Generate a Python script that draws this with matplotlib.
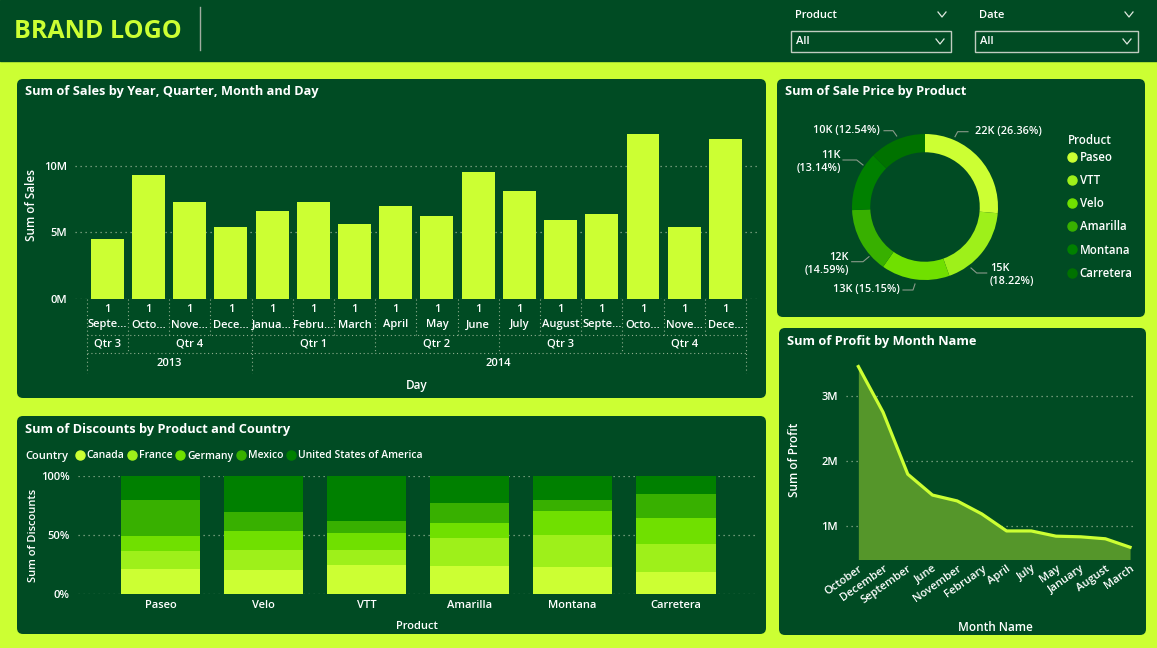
import numpy as np
import matplotlib.pyplot as plt
from matplotlib.patches import FancyBboxPatch, Rectangle
from matplotlib.lines import Line2D
from matplotlib.transforms import blended_transform_factory

plt.rcParams['font.family'] = ['Open Sans', 'DejaVu Sans']

W, H = 1157, 648
LIME = '#ccff33'
PANEL = '#004b23'
GREENS = ['#ccff33', '#9ef01a', '#70e000', '#38b000', '#008000', '#007200']
TXT = '#ffffff'
GRID = '#8fae8f'

# --- data ---
sales_years = ['2013'] * 4 + ['2014'] * 12
sales_quarters = ['Qtr 3', 'Qtr 4', 'Qtr 4', 'Qtr 4', 'Qtr 1', 'Qtr 1', 'Qtr 1', 'Qtr 2',
                  'Qtr 2', 'Qtr 2', 'Qtr 3', 'Qtr 3', 'Qtr 3', 'Qtr 4', 'Qtr 4', 'Qtr 4']
sales_months = ['Septe...', 'Octo...', 'Nove...', 'Dece...', 'Janua...', 'Febru...', 'March',
                'April', 'May', 'June', 'July', 'August', 'Septe...', 'Octo...', 'Nove...', 'Dece...']
sales_days = ['1'] * 16
sales_values = [4.5, 9.3, 7.3, 5.4, 6.6, 7.3, 5.6, 7.0, 6.2, 9.5, 8.1, 5.9, 6.4, 12.4, 5.4, 12.0]  # M

pie_products = ['Paseo', 'VTT', 'Velo', 'Amarilla', 'Montana', 'Carretera']
pie_value_k = [22, 15, 13, 12, 11, 10]
pie_pct = [26.36, 18.22, 15.15, 14.59, 13.14, 12.54]

disc_products = ['Paseo', 'Velo', 'VTT', 'Amarilla', 'Montana', 'Carretera']
countries = ['Canada', 'France', 'Germany', 'Mexico', 'United States of America']
disc_canada = [21.5, 20.6, 24.9, 24.0, 23.2, 18.9]
disc_france = [15.2, 16.7, 12.7, 23.7, 27.1, 23.8]
disc_germany = [12.5, 16.1, 14.1, 12.2, 20.3, 22.0]
disc_mexico = [30.5, 16.1, 10.2, 17.2, 9.3, 20.3]
disc_usa = [20.3, 30.5, 38.1, 22.9, 20.1, 15.0]

profit_months = ['October', 'December', 'September', 'June', 'November', 'February',
                 'April', 'July', 'May', 'January', 'August', 'March']
profit_values = [3.45, 2.75, 1.80, 1.48, 1.39, 1.19, 0.93, 0.93, 0.85, 0.84, 0.81, 0.68]  # M

fig = plt.figure(figsize=(W / 100, H / 100), dpi=100, facecolor=LIME)


def px_axes(x0, y0, x1, y1):
    return fig.add_axes([x0 / W, 1 - y1 / H, (x1 - x0) / W, (y1 - y0) / H])


def style(ax):
    ax.set_facecolor('none')
    for s in ax.spines.values():
        s.set_visible(False)
    ax.tick_params(length=0, colors=TXT, labelsize=8)
    ax.set_axisbelow(True)


# background layer in pixel coords
bg = fig.add_axes([0, 0, 1, 1])
bg.set_xlim(0, W)
bg.set_ylim(H, 0)
bg.axis('off')
bg.set_zorder(-5)

bg.add_patch(Rectangle((0, 0), W, 61, color=PANEL))
for (x0, y0, x1, y1) in [(17, 79, 766, 398), (777, 79, 1145, 317),
                         (17, 416, 766, 634), (779, 328, 1146, 635)]:
    bg.add_patch(FancyBboxPatch((x0, y0), x1 - x0, y1 - y0,
                                boxstyle='round,pad=0,rounding_size=6',
                                fc=PANEL, ec='none'))

# header
bg.text(14, 31, 'BRAND LOGO', color=LIME, fontsize=18, weight='bold', va='center')
bg.plot([200, 200], [7, 50], color='#a0aca0', lw=1)


def chevron(x, y):
    bg.plot([x - 4, x, x + 4], [y - 3, y + 2, y - 3], color='#dfe8df', lw=0.9)


for lab, x0, x1 in [('Product', 791, 951), ('Date', 975, 1138)]:
    bg.text(x0 + 4, 16, lab, color=TXT, fontsize=8, weight='semibold', va='center')
    chevron(x1 - 9, 15)
    bg.add_patch(Rectangle((x0, 31), x1 - x0, 21, fill=False, ec='#c0ccc0', lw=1))
    bg.text(x0 + 5, 42, 'All', color=TXT, fontsize=8, weight='semibold', va='center')
    chevron(x1 - 11, 42)

# panel titles
for x, y, t in [(25, 92, 'Sum of Sales by Year, Quarter, Month and Day'),
                (785, 92, 'Sum of Sale Price by Product'),
                (25, 429, 'Sum of Discounts by Product and Country'),
                (787, 342, 'Sum of Profit by Month Name')]:
    bg.text(x, y, t, color=TXT, fontsize=9.2, weight='bold', va='center')

# --- 1. Sales by date hierarchy ---
ax1 = px_axes(75, 115, 757, 299)
style(ax1)
x = np.arange(len(sales_values))
ax1.bar(x, sales_values, width=0.8, color=LIME)
ax1.set_xlim(-0.784, 15.767)
ax1.set_ylim(0, 13.8)
ax1.set_yticks([0, 5, 10])
ax1.set_yticklabels(['0M', '5M', '10M'], fontweight='semibold')
ax1.tick_params(axis='y', pad=6)
ax1.set_xticks([])
ax1.yaxis.grid(True, linestyle=(0, (1, 3)), color=GRID, lw=0.9)
ax1.set_ylabel('Sum of Sales', color=TXT, fontsize=8.5, weight='semibold')
ax1.yaxis.set_label_coords(-0.054, 0.51)

tr = blended_transform_factory(ax1.transData, bg.transData)


def runs(keys):
    out, start = [], 0
    for i in range(1, len(keys) + 1):
        if i == len(keys) or keys[i] != keys[start]:
            out.append((start, i - 1))
            start = i
    return out


year_runs = runs(sales_years)
qtr_runs = runs(list(zip(sales_years, sales_quarters)))
year_b = {s for s, e in year_runs} | {e + 1 for s, e in year_runs}
qtr_b = {s for s, e in qtr_runs} | {e + 1 for s, e in qtr_runs}
dot = dict(color=GRID, lw=0.8, linestyle=(0, (1, 2.5)), transform=tr, clip_on=False)
for b in range(len(sales_values) + 1):
    bottom = 373 if b in year_b else (353 if b in qtr_b else 335)
    ax1.plot([b - 0.5, b - 0.5], [299, bottom], **dot)
for yy in [335, 353]:
    ax1.plot([-0.5, len(sales_values) - 0.5], [yy, yy], **dot)
lab = dict(color=TXT, fontsize=8, weight='semibold', ha='center', va='center',
           transform=tr, clip_on=False)
for i in range(len(sales_values)):
    ax1.text(i, 310, sales_days[i], **lab)
    ax1.text(i, 325, sales_months[i], **lab)
for s, e in qtr_runs:
    ax1.text((s + e) / 2, 344, sales_quarters[s], **lab)
for s, e in year_runs:
    ax1.text((s + e) / 2, 363, sales_years[s], **lab)
ax1.text((len(sales_values) - 1) / 2, 385, 'Day', **{**lab, 'fontsize': 8.5})

# --- 2. Donut ---
R = 73.0
ax2 = px_axes(805, 87, 1045, 327)
ax2.set_facecolor('none')
ax2.pie(pie_pct, colors=GREENS, startangle=90, counterclock=False, radius=1,
        wedgeprops=dict(width=0.25, edgecolor='none'))
ax2.set_xlim(-120 / R, 120 / R)
ax2.set_ylim(-120 / R, 120 / R)
ax2.set_aspect('equal')
ax2.axis('off')

pie_labels = [f'{v}K ({p:.2f}%)' for v, p in zip(pie_value_k, pie_pct)]
two_line = [False, True, False, True, True, False]
# label anchor (px), alignment and leader path (px) for each slice
label_layout = [
    ((975, 131.7), 'left', [(968, 131.7), (957.7, 131.7), (955, 136.7)]),
    ((990, 275), 'left', [(986.7, 273), (976.7, 273), (971, 268)]),
    ((900, 290), 'right', [(903, 290), (913, 290), (915, 284)]),
    ((849, 263.7), 'right', [(851.7, 261.7), (863, 261.7), (869, 256.7)]),
    ((841, 161.7), 'right', [(843, 160), (856.7, 160), (863, 165)]),
    ((880, 130.7), 'right', [(884, 130.7), (893, 130.7), (896.7, 136)]),
]
for txt, tl, (pos, ha, path) in zip(pie_labels, two_line, label_layout):
    if tl:
        txt = txt.replace(' ', '\n')
    bg.text(pos[0], pos[1], txt, color=TXT, fontsize=7.8, weight='semibold',
            ha=ha, va='center', multialignment=ha, linespacing=1.25)
    px, py = zip(*path)
    bg.plot(px, py, color='#8a9a8a', lw=0.8)

handles = [Line2D([], [], marker='o', ls='none', color=c, markersize=6.5) for c in GREENS]
leg = ax2.legend(handles, pie_products, title='Product', loc='upper left',
                 bbox_to_anchor=(1062 / W, 1 - 128 / H), bbox_transform=fig.transFigure,
                 frameon=False, handletextpad=0.25, handlelength=0.8, labelspacing=0.88,
                 borderpad=0, alignment='left',
                 prop=dict(size=8.3, weight='semibold'),
                 title_fontproperties=dict(size=8.3, weight='semibold'))
leg._legend_box.sep = 3
for t in leg.get_texts():
    t.set_color(TXT)
leg.get_title().set_color(TXT)

# --- 3. 100% stacked discounts ---
ax3 = px_axes(78, 476, 758, 594)
style(ax3)
xd = np.arange(len(disc_products))
stack = [disc_canada, disc_france, disc_germany, disc_mexico, disc_usa]
arr = np.array(stack, dtype=float)
arr = arr / arr.sum(axis=0) * 100
bottom = np.zeros(len(disc_products))
for row, c, name in zip(arr, GREENS, countries):
    ax3.bar(xd, row, bottom=bottom, width=0.775, color=c, label=name)
    bottom += row
ax3.set_xlim(-0.8, 5.8)
ax3.set_ylim(0, 100)
ax3.set_yticks([0, 50, 100])
ax3.set_yticklabels(['0%', '50%', '100%'], fontweight='semibold')
ax3.set_xticks(xd)
ax3.set_xticklabels(disc_products, fontweight='semibold')
ax3.tick_params(axis='y', pad=6)
ax3.tick_params(axis='x', pad=4)
ax3.yaxis.grid(True, linestyle=(0, (1, 3)), color=GRID, lw=0.9)
ax3.set_ylabel('Sum of Discounts', color=TXT, fontsize=8, weight='semibold')
ax3.yaxis.set_label_coords(-0.058, 0.5)
ax3.set_xlabel('Product', color=TXT, fontsize=8, weight='semibold')
ax3.xaxis.set_label_coords(0.4985, -0.23)

bg.text(25, 456, 'Country', color=TXT, fontsize=8, weight='semibold', va='center')
h3 = [Line2D([], [], marker='o', ls='none', color=c, markersize=6.5) for c in GREENS[:5]]
leg3 = ax3.legend(h3, countries, loc='center left', ncol=5,
                  bbox_to_anchor=(70 / W, 1 - 456 / H), bbox_transform=fig.transFigure,
                  frameon=False, handletextpad=0.2, handlelength=0.9, columnspacing=0.3,
                  borderpad=0, prop=dict(size=7.5, weight='semibold'))
for t in leg3.get_texts():
    t.set_color(TXT)

# --- 4. Profit area ---
ax4 = px_axes(846, 360, 1136, 559)
style(ax4)
xp = np.arange(len(profit_values))
ax4.fill_between(xp, 0, profit_values, color='#55962a', lw=0)
ax4.plot(xp, profit_values, color=LIME, lw=2.3)
ax4.set_xlim(-0.5, 11.24)
ax4.set_ylim(0.5, 3.55)
ax4.set_yticks([1, 2, 3])
ax4.set_yticklabels(['1M', '2M', '3M'], fontweight='semibold')
ax4.tick_params(axis='y', pad=6)
ax4.yaxis.grid(True, linestyle=(0, (1, 3)), color=GRID, lw=0.9)
ax4.set_xticks(xp)
ax4.set_xticklabels(profit_months, rotation=35, ha='right', rotation_mode='anchor',
                    fontweight='semibold')
ax4.tick_params(axis='x', pad=3)
ax4.set_ylabel('Sum of Profit', color=TXT, fontsize=8.5, weight='semibold')
ax4.yaxis.set_label_coords(-0.156, 0.5)
ax4.set_xlabel('Month Name', color=TXT, fontsize=8.5, weight='semibold')
ax4.xaxis.set_label_coords(0.514, -0.31)

fig.savefig('out.png', dpi=100, facecolor=LIME)
